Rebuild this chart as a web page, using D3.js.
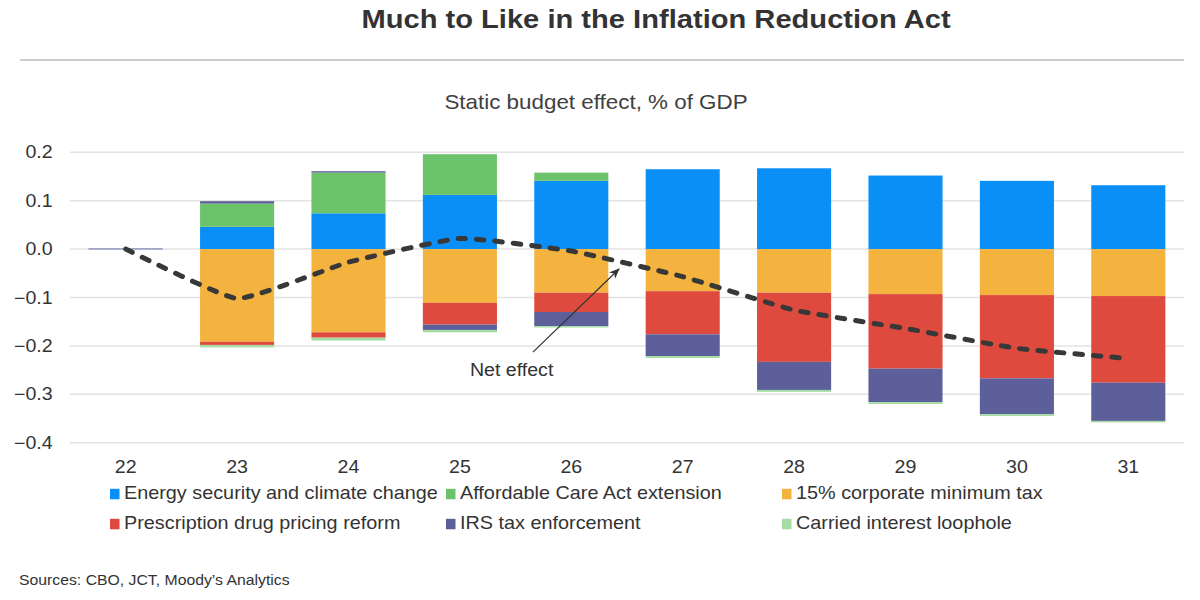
<!DOCTYPE html>
<html lang="en">
<head>
<meta charset="UTF-8">
<script src="https://d3js.org/d3.v7.min.js"></script>
<title>Much to Like in the Inflation Reduction Act</title>
<style>
    body { margin: 0; background: #fff; font-family: "Liberation Sans", Arial, sans-serif; }
    svg { display: block; }
    text { fill: #333; font-family: "Liberation Sans", Arial, sans-serif; }
</style>
</head>
<body>
<svg id="chart" width="1200" height="600"></svg>
<script>
// years (fiscal, 2022-2031)
const years = ["22", "23", "24", "25", "26", "27", "28", "29", "30", "31"];

// static budget effect, % of GDP
const energy   = [0.000, 0.046, 0.074, 0.112, 0.141, 0.165, 0.167, 0.152, 0.141, 0.132];
const aca      = [0.000, 0.048, 0.084, 0.084, 0.017, 0.000, 0.000, 0.000, 0.000, 0.000];
const minTax   = [0.000, -0.1915, -0.172, -0.111, -0.090, -0.087, -0.090, -0.093, -0.095, -0.097];
const drugs    = [0.000, -0.0065, -0.011, -0.045, -0.040, -0.089, -0.143, -0.154, -0.172, -0.179];
const irs      = [0.0012, 0.005, 0.003, -0.011, -0.029, -0.045, -0.058, -0.069, -0.074, -0.079];
const carried  = [0.000, -0.005, -0.006, -0.005, -0.003, -0.004, -0.004, -0.004, -0.004, -0.003];
const netEffect = [0.000, -0.102, -0.027, 0.022, -0.004, -0.057, -0.126, -0.164, -0.205, -0.226];

const yTicks = [0.2, 0.1, 0.0, -0.1, -0.2, -0.3, -0.4];

const seriesNames = [
    "Energy security and climate change",
    "Affordable Care Act extension",
    "15% corporate minimum tax",
    "Prescription drug pricing reform",
    "IRS tax enforcement",
    "Carried interest loophole"
];
const seriesValues = [energy, aca, minTax, drugs, irs, carried];
const colors = ["#0a8ff7", "#6cc36a", "#f4b23e", "#de4a3d", "#5d5f9b", "#a6dca4"];

const svg = d3.select("#chart");
const margin = { left: 70, right: 16 };
const width = 1200 - margin.left - margin.right;
const sx = 1.12;  // the original text is a bit wider than it is tall

function label(x, y, str, size, anchor, weight) {
    return svg.append("g")
        .attr("transform", `translate(${x},${y}) scale(${sx},1)`)
        .append("text")
        .attr("text-anchor", anchor || "start")
        .style("font-size", size + "px")
        .style("font-weight", weight || "normal")
        .text(str);
}

// title + rule
label(656, 28, "Much to Like in the Inflation Reduction Act", 26, "middle", "bold");

svg.append("line")
    .attr("x1", 20).attr("x2", 1184).attr("y1", 60).attr("y2", 60)
    .attr("stroke", "#bdbdbd").attr("stroke-width", 1.5);

label(596, 109, "Static budget effect, % of GDP", 20, "middle").style("fill", "#404040");

const x = d3.scaleBand()
    .domain(years)
    .range([margin.left, margin.left + width])
    .paddingInner(0.335)
    .paddingOuter(0.1675);

const y = d3.scaleLinear()
    .domain([-0.4, 0.2])
    .range([442.7, 152.3]);

// gridlines
svg.append("g")
    .selectAll("line")
    .data(yTicks)
    .join("line")
    .attr("x1", margin.left).attr("x2", margin.left + width)
    .attr("y1", d => y(d)).attr("y2", d => y(d))
    .attr("stroke", "#e3e3e3").attr("stroke-width", 1.5);

// y axis labels
const yAxis = svg.append("g")
    .attr("transform", `translate(${margin.left},0)`)
    .call(d3.axisLeft(y).tickValues(yTicks).tickFormat(d3.format(".1f")).tickSize(0).tickPadding(15.5));
yAxis.select(".domain").remove();
yAxis.selectAll("text")
    .attr("transform", `scale(${sx},1)`)
    .style("font-size", "17.5px").style("fill", "#333");

// x axis labels
const xAxis = svg.append("g")
    .attr("transform", `translate(0,${y(-0.4)})`)
    .call(d3.axisBottom(x).tickSize(0).tickPadding(18));
xAxis.select(".domain").remove();
xAxis.selectAll("text")
    .attr("transform", `scale(${sx},1)`)
    .style("font-size", "17.5px").style("fill", "#333");

// stacked bars
const table = years.map((yr, i) => {
    const row = { year: yr };
    seriesNames.forEach((name, k) => { row[name] = seriesValues[k][i]; });
    return row;
});

const stack = d3.stack()
    .keys(seriesNames)
    .offset(d3.stackOffsetDiverging);

const layers = stack(table);

svg.append("g")
    .selectAll("g")
    .data(layers)
    .join("g")
    .attr("fill", (d, i) => colors[i])
    .selectAll("rect")
    .data(d => d)
    .join("rect")
    .attr("x", d => x(d.data.year))
    .attr("width", x.bandwidth())
    .attr("y", d => y(Math.max(d[0], d[1])))
    .attr("height", d => Math.abs(y(d[0]) - y(d[1])));

// year 22 is only a hairline at zero
svg.append("line")
    .attr("x1", x("22")).attr("x2", x("22") + x.bandwidth())
    .attr("y1", y(0)).attr("y2", y(0))
    .attr("stroke", "#9ea6c4").attr("stroke-width", 1.5);

// net effect line
const line = d3.line()
    .x((d, i) => x(years[i]) + x.bandwidth() / 2)
    .y(d => y(d))
    .curve(d3.curveCardinal.tension(0.6));

svg.append("path")
    .datum(netEffect)
    .attr("d", line)
    .attr("fill", "none")
    .attr("stroke", "#383838")
    .attr("stroke-width", 5)
    .attr("stroke-dasharray", "7.5,11")
    .attr("stroke-linecap", "round");

// annotation
svg.append("defs").append("marker")
    .attr("id", "arrow")
    .attr("viewBox", "0 0 10 10")
    .attr("refX", 9).attr("refY", 5)
    .attr("markerWidth", 9).attr("markerHeight", 9)
    .attr("orient", "auto")
    .append("path")
    .attr("d", "M0,1 L10,5 L0,9 L3,5 Z")
    .attr("fill", "#333");

const xMid = (a, b) => (x(a) + x(b) + x.bandwidth()) / 2;
svg.append("line")
    .attr("x1", x("25") + x.bandwidth() + 36).attr("y1", y(-0.213))
    .attr("x2", xMid("26", "27") - 8).attr("y2", y(-0.041))
    .attr("stroke", "#333").attr("stroke-width", 1.2)
    .attr("marker-end", "url(#arrow)");

label(xMid("25", "26") - 4, y(-0.262), "Net effect", 17.5, "middle");

// legend
const legendPos = [
    [110, 499.3], [446, 499.3], [782, 499.3],
    [110, 529.3], [446, 529.3], [782, 529.3]
];
const legend = svg.append("g")
    .selectAll("g")
    .data(seriesNames)
    .join("g")
    .attr("transform", (d, i) => `translate(${legendPos[i][0]},${legendPos[i][1]})`);

legend.append("rect")
    .attr("x", 0).attr("y", -10.5).attr("width", 9.5).attr("height", 10.5)
    .attr("fill", (d, i) => colors[i]);

legend.append("text")
    .attr("transform", `translate(14,0) scale(${sx},1)`)
    .style("font-size", "17.7px")
    .text(d => d);

// source
label(19, 585, "Sources: CBO, JCT, Moody\u2019s Analytics", 14.1);
</script>
</body>
</html>
